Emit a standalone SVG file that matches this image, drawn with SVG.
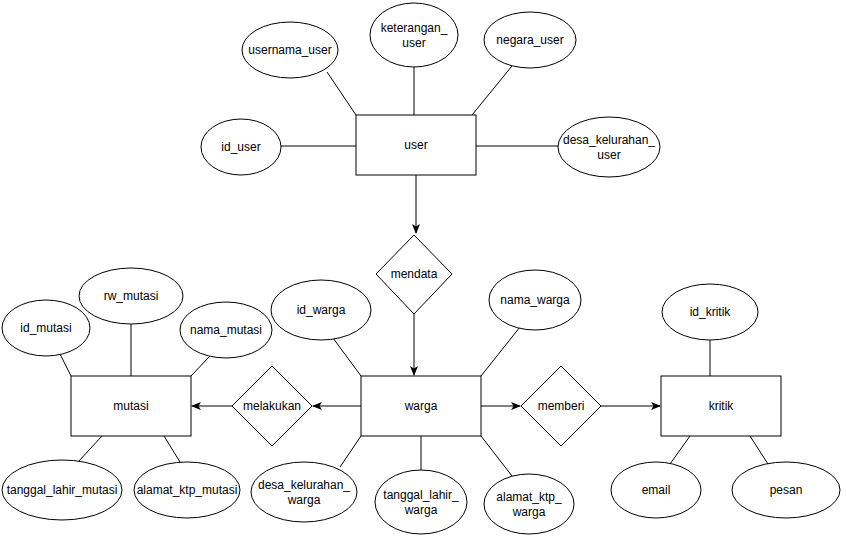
<svg xmlns="http://www.w3.org/2000/svg" width="846" height="537" viewBox="0 0 846 537">
<style>
.s{fill:#fff;stroke:#000;stroke-width:1}
.l{stroke:#000;stroke-width:1;fill:none}
text{font-family:"Liberation Sans",Arial,sans-serif;font-size:12px;text-anchor:middle;dominant-baseline:central;fill:#000}
</style>
<defs><marker id="a" markerWidth="10" markerHeight="8" refX="9" refY="4" orient="auto" markerUnits="userSpaceOnUse"><path d="M0,0L10,4L0,8L2.5,4Z" fill="#000"/></marker></defs>
<rect width="846" height="537" fill="#fff"/>
<g id="connectors">
<path class="l" d="M327,72L356,115M414,67V115M512,66L472,115M281,146H356M476,146H558"/>
<path class="l" d="M416,175V233" marker-end="url(#a)"/>
<path class="l" d="M414,314V375" marker-end="url(#a)"/>
<path class="l" d="M333,338L361,376M520,327L481,376M361,436L340,467M421,436V470M481,436L512,476"/>
<path class="l" d="M361,406H313" marker-end="url(#a)"/>
<path class="l" d="M232,406H192" marker-end="url(#a)"/>
<path class="l" d="M481,406H520" marker-end="url(#a)"/>
<path class="l" d="M601,406H660" marker-end="url(#a)"/>
<path class="l" d="M60,354L71,376M131,324V376M210,356L191,376M102,436L78,462M164,436L180,462"/>
<path class="l" d="M710,340V376M690,436L670,464M750,436L768,464"/>
</g>
<g id="user"><rect class="s" x="356" y="115" width="120" height="60"/><text x="416" y="145">user</text></g>
<g id="usernama_user"><ellipse class="s" cx="290" cy="50" rx="48" ry="28"/><text x="290" y="50">usernama_user</text></g>
<g id="keterangan_user"><ellipse class="s" cx="414" cy="35" rx="44" ry="32"/><text x="414" y="28">keterangan_</text><text x="414" y="43">user</text></g>
<g id="negara_user"><ellipse class="s" cx="530" cy="40" rx="46" ry="28"/><text x="530" y="40">negara_user</text></g>
<g id="id_user"><ellipse class="s" cx="241" cy="147" rx="40" ry="28"/><text x="241" y="147">id_user</text></g>
<g id="desa_kelurahan_user"><ellipse class="s" cx="609" cy="147" rx="51" ry="30"/><text x="609" y="140">desa_kelurahan_</text><text x="609" y="155">user</text></g>
<g id="mendata"><path class="s" d="M376,274L414,235L452,274L414,314Z"/><text x="414" y="274">mendata</text></g>
<g id="warga"><rect class="s" x="361" y="376" width="120" height="60"/><text x="421" y="406">warga</text></g>
<g id="id_warga"><ellipse class="s" cx="321" cy="310" rx="50" ry="30"/><text x="321" y="310">id_warga</text></g>
<g id="nama_warga"><ellipse class="s" cx="535" cy="300" rx="46" ry="30"/><text x="535" y="300">nama_warga</text></g>
<g id="desa_kelurahan_warga"><ellipse class="s" cx="304" cy="492" rx="53" ry="30"/><text x="304" y="485">desa_kelurahan_</text><text x="304" y="500">warga</text></g>
<g id="tanggal_lahir_warga"><ellipse class="s" cx="421" cy="502" rx="46" ry="32"/><text x="421" y="495">tanggal_lahir_</text><text x="421" y="510">warga</text></g>
<g id="alamat_ktp_warga"><ellipse class="s" cx="529" cy="504" rx="45" ry="30"/><text x="529" y="497">alamat_ktp_</text><text x="529" y="512">warga</text></g>
<g id="melakukan"><path class="s" d="M232,406L272,366L312,406L272,446Z"/><text x="272" y="406">melakukan</text></g>
<g id="mutasi"><rect class="s" x="71" y="376" width="120" height="60"/><text x="131" y="406">mutasi</text></g>
<g id="id_mutasi"><ellipse class="s" cx="46" cy="328" rx="44" ry="28"/><text x="46" y="328">id_mutasi</text></g>
<g id="rw_mutasi"><ellipse class="s" cx="131" cy="296" rx="52" ry="28"/><text x="131" y="296">rw_mutasi</text></g>
<g id="nama_mutasi"><ellipse class="s" cx="226" cy="330" rx="46" ry="28"/><text x="226" y="330">nama_mutasi</text></g>
<g id="tanggal_lahir_mutasi"><ellipse class="s" cx="62" cy="490" rx="60" ry="30"/><text x="62" y="490">tanggal_lahir_mutasi</text></g>
<g id="alamat_ktp_mutasi"><ellipse class="s" cx="187" cy="490" rx="53" ry="28"/><text x="187" y="490">alamat_ktp_mutasi</text></g>
<g id="memberi"><path class="s" d="M521,406L561,366L601,406L561,446Z"/><text x="561" y="406">memberi</text></g>
<g id="kritik"><rect class="s" x="661" y="376" width="120" height="60"/><text x="721" y="406">kritik</text></g>
<g id="id_kritik"><ellipse class="s" cx="710" cy="312" rx="48" ry="28"/><text x="710" y="312">id_kritik</text></g>
<g id="email"><ellipse class="s" cx="656" cy="490" rx="45" ry="28"/><text x="656" y="490">email</text></g>
<g id="pesan"><ellipse class="s" cx="786" cy="490" rx="54" ry="28"/><text x="786" y="490">pesan</text></g>
</svg>
